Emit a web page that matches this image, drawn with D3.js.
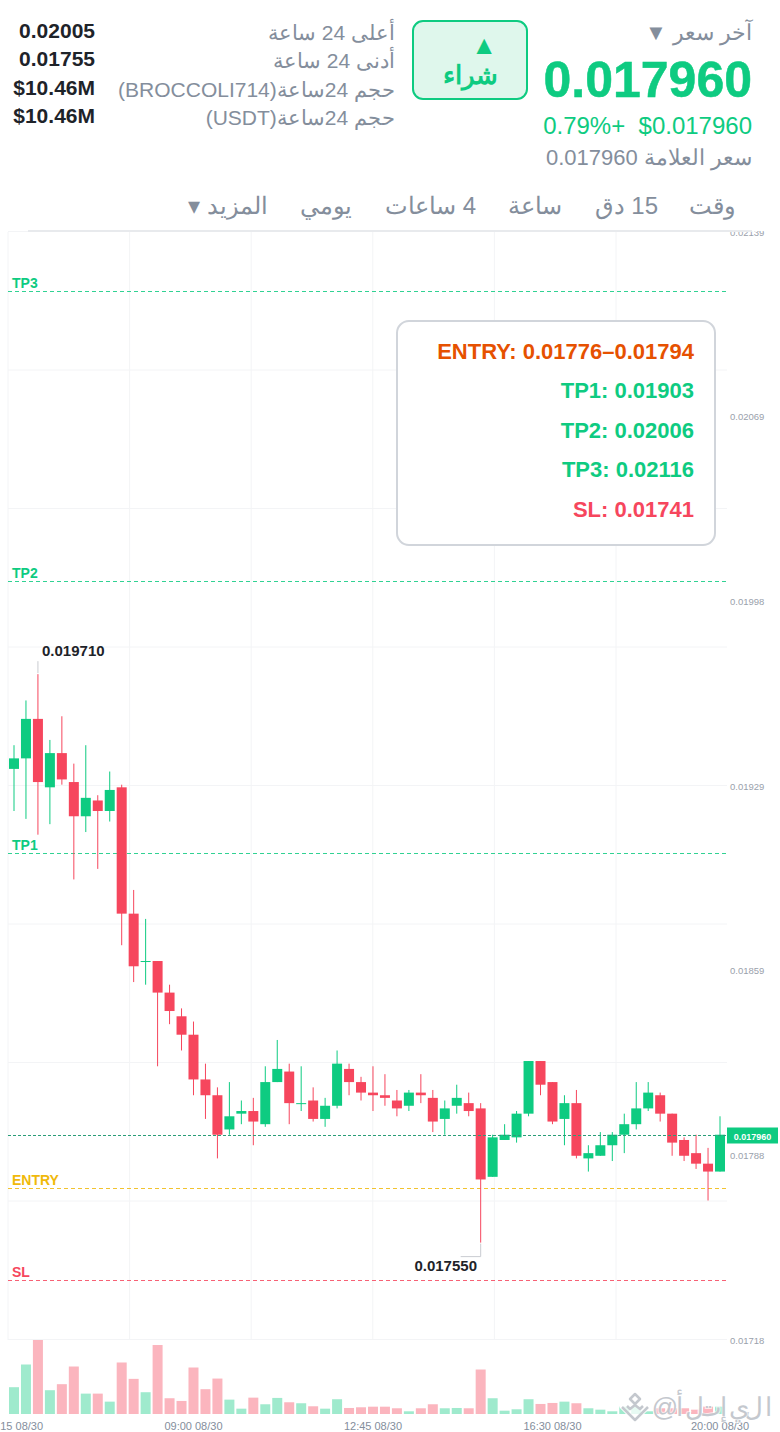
<!DOCTYPE html>
<html>
<head>
<meta charset="utf-8">
<script src="https://cdn.jsdelivr.net/npm/d3@7"></script>
<style>
  html, body { margin: 0; padding: 0; background: #fff; }
  svg { display: block; font-family: "Liberation Sans", Arial, sans-serif; }
</style>
</head>
<body>
<svg id="chart" width="780" height="1432"></svg>
<script>
const times = ["05:15", "05:30", "05:45", "06:00", "06:15", "06:30", "06:45", "07:00", "07:15", "07:30", "07:45", "08:00", "08:15", "08:30", "08:45",
  "09:00", "09:15", "09:30", "09:45", "10:00", "10:15", "10:30", "10:45", "11:00", "11:15", "11:30", "11:45", "12:00", "12:15", "12:30",
  "12:45", "13:00", "13:15", "13:30", "13:45", "14:00", "14:15", "14:30", "14:45", "15:00", "15:15", "15:30", "15:45", "16:00", "16:15",
  "16:30", "16:45", "17:00", "17:15", "17:30", "17:45", "18:00", "18:15", "18:30", "18:45", "19:00", "19:15", "19:30", "19:45", "20:00"];

const opens = [0.01935, 0.01939, 0.01954, 0.01928, 0.01941, 0.01930, 0.01917, 0.01923, 0.01919, 0.01928,
  0.01880, 0.01862, 0.01862, 0.01850, 0.01841, 0.01834, 0.01817, 0.01811, 0.01798, 0.01804,
  0.01805, 0.01800, 0.01816, 0.01820, 0.01808, 0.01809, 0.01802, 0.01807, 0.01821, 0.01816,
  0.01812, 0.01811, 0.01809, 0.01807, 0.01812, 0.01810, 0.01802, 0.01807, 0.01808, 0.01806,
  0.01780, 0.01794, 0.01795, 0.01804, 0.01824, 0.01816, 0.01802, 0.01808, 0.01787, 0.01788,
  0.01792, 0.01796, 0.01800, 0.01806, 0.01811, 0.01804, 0.01794, 0.01789, 0.01785, 0.01782];
const highs = [0.01944, 0.01961, 0.01971, 0.01946, 0.01955, 0.01937, 0.01944, 0.01925, 0.01934, 0.01929,
  0.01889, 0.01878, 0.01862, 0.01853, 0.01844, 0.01839, 0.01823, 0.01814, 0.01816, 0.01809,
  0.01810, 0.01822, 0.01832, 0.01823, 0.01822, 0.01814, 0.01810, 0.01828, 0.01823, 0.01818,
  0.01822, 0.01819, 0.01813, 0.01813, 0.01819, 0.01813, 0.01809, 0.01815, 0.01812, 0.01808,
  0.01796, 0.01800, 0.01805, 0.01824, 0.01824, 0.01816, 0.01811, 0.01813, 0.01792, 0.01797,
  0.01797, 0.01804, 0.01816, 0.01816, 0.01812, 0.01804, 0.01795, 0.01796, 0.01791, 0.01803];
const lows = [0.01919, 0.01916, 0.01910, 0.01914, 0.01929, 0.01893, 0.01911, 0.01897, 0.01915, 0.01868,
  0.01854, 0.01853, 0.01822, 0.01838, 0.01828, 0.01811, 0.01802, 0.01787, 0.01796, 0.01800,
  0.01792, 0.01799, 0.01816, 0.01800, 0.01805, 0.01801, 0.01799, 0.01806, 0.01811, 0.01809,
  0.01805, 0.01807, 0.01803, 0.01805, 0.01808, 0.01797, 0.01796, 0.01804, 0.01803, 0.01755,
  0.01780, 0.01794, 0.01793, 0.01803, 0.01811, 0.01800, 0.01792, 0.01787, 0.01782, 0.01788,
  0.01786, 0.01789, 0.01798, 0.01805, 0.01801, 0.01788, 0.01786, 0.01783, 0.01771, 0.01782];
const closes = [0.01939, 0.01954, 0.01930, 0.01941, 0.01931, 0.01917, 0.01924, 0.01919, 0.01927, 0.01880,
  0.01860, 0.01862, 0.01850, 0.01843, 0.01834, 0.01817, 0.01811, 0.01796, 0.01803, 0.01805,
  0.01801, 0.01816, 0.01821, 0.01808, 0.01808, 0.01802, 0.01807, 0.01823, 0.01816, 0.01812,
  0.01811, 0.01810, 0.01806, 0.01812, 0.01811, 0.01801, 0.01806, 0.01810, 0.01805, 0.01779,
  0.01795, 0.01796, 0.01804, 0.01824, 0.01815, 0.01801, 0.01808, 0.01788, 0.01789, 0.01792,
  0.01796, 0.01800, 0.01806, 0.01812, 0.01804, 0.01793, 0.01788, 0.01785, 0.01782, 0.01796];
// volume bars (relative units, no volume axis is shown)
const volumes = [26.7, 49.3, 73.7, 23.7, 29.7, 47.3, 20.3, 20.3, 12.3, 51.3,
  35, 21.7, 68.7, 15.7, 13, 46.3, 24.7, 35.3, 14.3, 5.3,
  16.3, 9.7, 16, 11.7, 10.7, 7.7, 5.3, 14.7, 6, 6.7,
  7.3, 7.3, 5.7, 2.7, 5.7, 9.7, 5.7, 6, 5.7, 44.3,
  15.7, 3.3, 4.7, 14.7, 10, 11, 12.3, 10.7, 5.7, 4.3,
  2.7, 7.3, 7.3, 2.7, 5.7, 5.7, 5.7, 4.3, 7.3, 7.3];

const priceTicks = ["0.02139", "0.02069", "0.01998", "0.01929", "0.01859", "0.01788", "0.01718"];
const timeTicks = ["05:15", "09:00", "12:45", "16:30", "20:00"];
const dateLabel = "08/30";

const levelNames = ["TP3", "TP2", "TP1", "ENTRY", "SL"];
const levelPrices = [0.021164, 0.020062, 0.019028, 0.017756, 0.017406];
const levelColors = ["#0ECB81", "#0ECB81", "#0ECB81", "#F0B90B", "#F6465D"];

const noteLines = ["ENTRY: 0.01776–0.01794", "TP1: 0.01903", "TP2: 0.02006", "TP3: 0.02116", "SL: 0.01741"];
const noteColors = ["#E65100", "#0ECB81", "#0ECB81", "#0ECB81", "#F6465D"];

const statLabels = ["أعلى 24 ساعة", "أدنى 24 ساعة", "حجم 24ساعة(BROCCOLI714)", "حجم 24ساعة(USDT)"];
const statValues = ["0.02005", "0.01755", "$10.46M", "$10.46M"];
const tabLabels = ["وقت", "15 دق", "ساعة", "4 ساعات", "يومي", "المزيد ▾"];
const tabRight = [736, 658, 562, 476, 352, 268];

// watermark letters stand apart in the picture, right to left
const markLetters = ["ا", "ل", "ي", "إ", "ت", "ل", "أ", "@"];

const lastPrice = 0.01796, lastLabel = "0.017960", maxLabel = "0.019710", minLabel = "0.017550";
const green = "#0ECB81", red = "#F6465D", grey = "#848E9C", dark = "#1E2329";

const svg = d3.select("#chart");
const plotLeft = 8, plotRight = 727, plotTop = 232, plotBottom = 1340;

const x = d3.scalePoint().domain(times).range([14, 720]);
const y = d3.scaleLinear().domain([0.01718, 0.02139]).range([plotBottom, plotTop]);
const v = d3.scaleLinear().domain([0, d3.max(volumes)]).range([1414, 1340]);
const tickY = d3.scalePoint().domain(priceTicks).range([plotTop, plotBottom]);

const candles = times.map((t, i) => ({ t, o: opens[i], h: highs[i], l: lows[i], c: closes[i], vol: volumes[i] }));
const crisp = n => Math.floor(n) + 0.5;

// grid
const grid = svg.append("g").attr("stroke", "#F3F4F6").attr("stroke-width", 1);
d3.range(0, 9).forEach(i => {
  const gy = plotTop + (plotBottom - plotTop) / 8 * i;
  grid.append("line").attr("x1", plotLeft).attr("x2", plotRight).attr("y1", gy - 0.5).attr("y2", gy - 0.5);
});
d3.range(0, 6).forEach(i => {
  const gx = plotLeft + 121.6 * i;
  grid.append("line").attr("x1", gx).attr("x2", gx).attr("y1", plotTop).attr("y2", plotBottom);
});

// volume
svg.append("g").selectAll("rect").data(candles).join("rect")
  .attr("x", d => x(d.t) - 5)
  .attr("width", 10)
  .attr("y", d => v(d.vol))
  .attr("height", d => v(0) - v(d.vol))
  .attr("fill", d => d.c >= d.o ? green : red)
  .attr("opacity", 0.4);

// level lines
const levels = svg.append("g");
levelNames.forEach((name, i) => {
  const ly = crisp(y(levelPrices[i]));
  levels.append("line").attr("x1", plotLeft).attr("x2", plotRight).attr("y1", ly).attr("y2", ly)
    .attr("stroke", levelColors[i]).attr("stroke-dasharray", "4 3").attr("stroke-width", 1).attr("opacity", 0.85);
  levels.append("text").attr("x", 12).attr("y", ly - 4).attr("font-size", 14).attr("font-weight", 700)
    .attr("fill", levelColors[i]).text(name);
});

// candles
const cg = svg.append("g");
cg.selectAll("line").data(candles).join("line")
  .attr("x1", d => x(d.t)).attr("x2", d => x(d.t))
  .attr("y1", d => y(d.h)).attr("y2", d => y(d.l))
  .attr("stroke", d => d.c >= d.o ? green : red).attr("stroke-width", 1);
cg.selectAll("rect").data(candles).join("rect")
  .attr("x", d => x(d.t) - 5)
  .attr("width", 10)
  .attr("y", d => y(Math.max(d.o, d.c)))
  .attr("height", d => Math.max(1, Math.abs(y(d.o) - y(d.c))))
  .attr("fill", d => d.c >= d.o ? green : red);

// last price line
const lastY = crisp(y(lastPrice)) + 1;
svg.append("line").attr("x1", plotLeft).attr("x2", plotRight)
  .attr("y1", lastY).attr("y2", lastY)
  .attr("stroke", "#2A9D78").attr("stroke-dasharray", "3 2").attr("stroke-width", 1);
svg.append("rect").attr("x", 727).attr("y", lastY - 8).attr("width", 51).attr("height", 16).attr("fill", green);
svg.append("text").attr("x", 752.5).attr("y", lastY + 4.5).attr("text-anchor", "middle")
  .attr("font-size", 9).attr("font-weight", 700).attr("fill", "#fff").text(lastLabel);

// high / low markers
const hi = candles[2], lo = candles[39];
svg.append("path").attr("fill", "none").attr("stroke", "#C9CCD1")
  .attr("d", `M${x(hi.t)},${y(hi.h) - 13}V${y(hi.h) - 1}`);
svg.append("text").attr("x", 42).attr("y", y(hi.h) - 18).attr("font-size", 15).attr("font-weight", 700)
  .attr("fill", dark).text(maxLabel);
svg.append("path").attr("fill", "none").attr("stroke", "#C9CCD1")
  .attr("d", `M${x(lo.t)},${y(lo.l) + 1}V${y(lo.l) + 14}H${x(lo.t) - 20}`);
svg.append("text").attr("x", 477).attr("y", y(lo.l) + 28).attr("text-anchor", "end").attr("font-size", 15)
  .attr("font-weight", 700).attr("fill", dark).text(minLabel);

// price and time labels
svg.append("g").selectAll("text").data(priceTicks).join("text")
  .attr("x", 730).attr("y", d => tickY(d) + 3.5).attr("font-size", 9.5).attr("fill", "#9AA1AC")
  .text(d => d);
svg.append("g").selectAll("text").data(timeTicks).join("text")
  .attr("x", d => x(d)).attr("y", 1430).attr("text-anchor", "middle").attr("font-size", 11).attr("fill", grey)
  .text(d => d + " " + dateLabel);

// note box
svg.append("rect").attr("x", 397).attr("y", 321).attr("width", 318).attr("height", 224).attr("rx", 12)
  .attr("fill", "#fff").attr("stroke", "#D1D5DB").attr("stroke-width", 2);
const noteBase = [358.5, 398, 438, 476.5, 516.5];
svg.append("g").selectAll("text").data(noteLines).join("text")
  .attr("x", 694).attr("y", (d, i) => noteBase[i]).attr("text-anchor", "end").attr("font-size", 22).attr("font-weight", 700)
  .attr("fill", (d, i) => noteColors[i]).text(d => d);

// header, drawn last so the top axis label gets cut off by the white strip
svg.append("rect").attr("width", 780).attr("height", 231).attr("fill", "#fff");
svg.append("line").attr("x1", 28).attr("x2", 752).attr("y1", 231).attr("y2", 231).attr("stroke", "#E8EAED").attr("stroke-width", 2);

function rtl(txt, right, base, size, fill, weight) {
  return svg.append("text").attr("x", right).attr("y", base).attr("font-size", size)
    .attr("fill", fill).attr("font-weight", weight || 400)
    .style("direction", "rtl").style("white-space", "pre").attr("text-anchor", "start").text(txt);
}

rtl("آخر سعر ▼", 752, 40, 22, grey);
svg.append("text").attr("x", 752).attr("y", 97).attr("text-anchor", "end").attr("font-size", 50).attr("font-weight", 700)
  .attr("fill", green).attr("stroke", green).attr("stroke-width", 0.5).text(lastLabel);
rtl("$0.017960  +0.79%", 752, 134, 24, green);
rtl("سعر العلامة 0.017960", 752, 165, 22, grey);

svg.append("rect").attr("x", 413).attr("y", 21).attr("width", 114).attr("height", 78).attr("rx", 10)
  .attr("fill", "#DFF7EC").attr("stroke", green).attr("stroke-width", 2);
svg.append("text").attr("x", 484).attr("y", 54).attr("text-anchor", "middle").attr("font-size", 26).attr("font-weight", 700)
  .attr("fill", green).text("▲");
svg.append("text").attr("x", 470).attr("y", 84).attr("text-anchor", "middle").attr("font-size", 26).attr("font-weight", 700)
  .attr("fill", green).text("شراء");

statLabels.forEach((s, i) => {
  const base = [40, 68, 97, 125][i];
  rtl(s, 395, base, 21, grey);
  svg.append("text").attr("x", 95).attr("y", base - 2).attr("text-anchor", "end").attr("font-size", 21).attr("font-weight", 700)
    .attr("fill", dark).text(statValues[i]);
});

tabLabels.forEach((t, i) => rtl(t, tabRight[i], 214, 24, grey));

// watermark
const mark = svg.append("g").attr("transform", "translate(635,1407)")
  .attr("fill", "none").attr("stroke-linejoin", "round");
mark.append("path").attr("d", "M0,-14L14,0L0,14L-14,0Z").attr("fill", "#fff").attr("fill-opacity", 0.75)
  .attr("stroke", "#fff").attr("stroke-width", 3);
mark.append("path").attr("d", "M0,-13L5,-8L0,-3L-5,-8Z").attr("stroke", "#C4C8CE").attr("stroke-width", 2.5);
mark.append("path").attr("d", "M-13,0L0,13L13,0M-8,-1L-5,2L0,-2L5,2L8,-1").attr("stroke", "#C4C8CE").attr("stroke-width", 2.5);
const markX = d3.scalePoint().domain(d3.range(markLetters.length)).range([768, 665]);
svg.append("g").selectAll("text").data(markLetters).join("text")
  .attr("x", (d, i) => markX(i)).attr("y", 1416).attr("text-anchor", "middle").attr("font-size", 26).attr("fill", "#C4C8CE")
  .attr("stroke", "#fff").attr("stroke-width", 2).attr("paint-order", "stroke").attr("stroke-opacity", 0.7)
  .text(d => d);
</script>
</body>
</html>
